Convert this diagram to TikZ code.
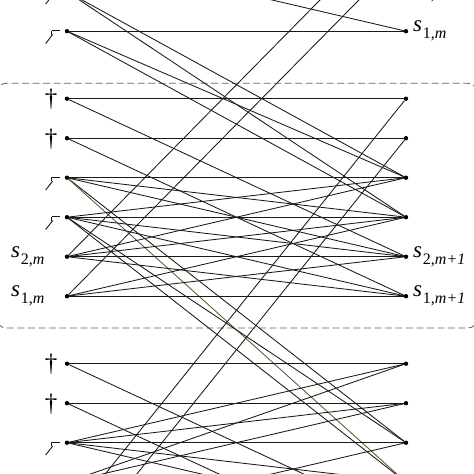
\documentclass[tikz,border=0pt]{standalone}
\usepackage{fontspec}
\setmainfont{Liberation Serif}
\usetikzlibrary{calc}
\newcommand{\slab}[2]{\textit{s}\kern0.8pt\raisebox{-7pt}{\fontsize{16}{16}\selectfont #1,\textit{#2}}}
\begin{document}
\begin{tikzpicture}[x=1pt,y=-1pt,
  edge/.style={line width=0.85pt, draw=black!90},
  oedge/.style={line width=0.85pt, draw=olive!55!black},
  dot/.style={circle, fill=black, inner sep=0pt, minimum size=4.4pt},
  lab/.style={font=\fontsize{23}{23}\selectfont, inner sep=0pt},
  dag/.style={font=\fontsize{25}{25}\selectfont, inner sep=0pt},
  sym/.style={line width=0.9pt, draw=black!90},
  box/.style={dashed, dash pattern=on 7pt off 3.5pt, line width=0.8pt, draw=black!62, rounded corners=9pt}
]
\useasboundingbox (0,0) rectangle (474,474);
\clip (0,0) rectangle (474,474);
% rows
\foreach \n/\y in {T3/-87.3,T4/-47.8,T5/-8.3,T6/31.2,
                   M1/98.7,M2/138.2,M3/177.7,M4/217.2,M5/256.7,M6/296.2,
                   B1/363.7,B2/403.2,B3/442.7,B4/482.2,B5/521.7,B6/561.2}{
  \node[dot] (L\n) at (67,\y) {};
  \node[dot] (R\n) at (406,\y) {};
}
% dashed box
\draw[box] (-3,83.3) rectangle (477,328);
% top block
\draw[edge] (LT4) -- (RT6);
\draw[edge] (LT5) -- (RM3); \draw[edge] (LT5) -- (RM4);
\draw[edge] (LT6) -- (RM3); \draw[edge] (LT6) -- (RM4);
\draw[edge] (LT6) -- (RT6);
% middle block
\draw[edge] (LM1) -- (RM1); \draw[edge] (LM1) -- (RM5);
\draw[edge] (LM2) -- (RM2); \draw[edge] (LM2) -- (RM6);
\draw[edge] (LM3) -- (RM3); \draw[edge] (LM3) -- (RM4); \draw[edge] (LM3) -- (RM5);
\draw[edge] (LM3) -- (RB3); \draw[oedge] (LM3) -- (RB4);
\draw[edge] (LM4) -- (RM4); \draw[edge] (LM4) -- (RM3); \draw[edge] (LM4) -- (RM5); \draw[edge] (LM4) -- (RM6);
\draw[edge] (LM4) -- (RB3); \draw[edge] (LM4) -- (RB4);
\draw[edge] (LM5) -- (RM5); \draw[edge] (LM5) -- (RM3); \draw[edge] (LM5) -- (RM4); \draw[edge] (LM5) -- (RM6);
\draw[edge] (LM5) -- (RT3);
\draw[edge] (LM6) -- (RM6); \draw[edge] (LM6) -- (RM4); \draw[edge] (LM6) -- (RM5);
\draw[edge] (LM6) -- (RT4);
\draw[edge] (LB5) -- (RM1); \draw[edge] (LB6) -- (RM2);
% bottom block
\draw[edge] (LB1) -- (RB1); \draw[edge] (LB1) -- (RB5);
\draw[edge] (LB2) -- (RB2); \draw[edge] (LB2) -- (RB6);
\draw[edge] (LB3) -- (RB3); \draw[edge] (LB3) -- (RB1); \draw[edge] (LB3) -- (RB2);
\draw[edge] (LB3) -- (RB4); \draw[edge] (LB3) -- (RB5);
\draw[edge] (LB4) -- (RB1); \draw[edge] (LB4) -- (RB2);
\draw[edge] (LB5) -- (RB3);
% left labels
\foreach \n in {M1,M2,B1,B2}{
  \node[dag] (d\n) at ($(L\n)+(-16,1)$) {\dag};
}
\foreach \n in {T5,T6,M3,M4,B3}{
  \coordinate (g\n) at ($(L\n)+(-15.5,0)$);
  \draw[sym] ($(g\n)+(0,-0.5)$) -- ++(8,0);
  \draw[sym] ($(g\n)+(0,-0.5)$) -- ++(0,3.8);
  \draw[sym] ($(g\n)+(1.2,3.3)$) -- ++(-7,9);
}
\node[lab, anchor=base west] (lsM5) at (11,257.2) {\slab{2}{m}};
\node[lab, anchor=base west] (lsM6) at (11,296.7) {\slab{1}{m}};
\node[lab, anchor=base west] (rsT5) at (413,-7.8) {\slab{2}{m}};
\node[lab, anchor=base west] (rsT6) at (413,31.7) {\slab{1}{m}};
\node[lab, anchor=base west] (rsM5) at (413,257.2) {\slab{2}{m+1}};
\node[lab, anchor=base west] (rsM6) at (413,296.7) {\slab{1}{m+1}};
\end{tikzpicture}
\end{document}
